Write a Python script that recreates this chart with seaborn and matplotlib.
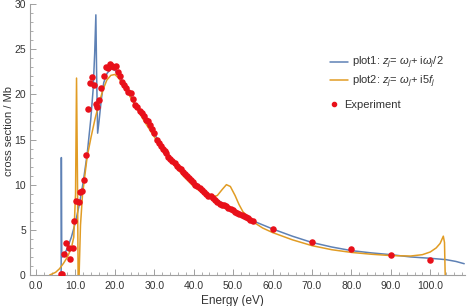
import numpy as np
import pandas as pd
import matplotlib
matplotlib.use("Agg")
import matplotlib.pyplot as plt
from matplotlib.lines import Line2D
from matplotlib.ticker import MultipleLocator, FormatStrFormatter
import seaborn as sns

# --- experiment points (eV, Mb) ---
exp_e = [6.4, 6.6, 7.1, 7.7, 8.3, 8.7, 9.3, 9.6, 10.2, 10.8, 11.2, 11.7, 12.3, 12.8,
         13.2, 13.7, 14.2, 14.8, 15.2, 15.6, 16.1, 16.6, 17.2, 17.8, 18.2, 18.7, 19.3,
         19.7, 20.2, 20.7, 21.3, 21.8, 22.3, 22.8, 23.4, 24.0, 24.5, 25.1, 25.7, 26.3,
         26.8, 27.4, 27.9, 28.4, 29.0, 29.5, 30.0, 30.6, 31.1, 31.6, 32.2, 32.7, 33.1,
         33.6, 34.1, 34.6, 35.2, 35.7, 36.2, 36.7, 37.3, 37.8, 38.3, 38.8, 39.3, 39.8,
         40.4, 40.9, 41.5, 42.0, 42.6, 43.2, 43.7, 44.3, 44.9, 45.4, 46.0, 46.6, 47.1,
         47.7, 48.3, 48.8, 49.4, 49.9, 50.5, 51.0, 51.6, 52.2, 52.7, 53.3, 53.8, 54.4,
         55.0, 60.0, 70.0, 80.0, 90.0, 100.0]
exp_cs = [0.1, 0.1, 2.3, 3.5, 3.0, 1.8, 3.0, 6.0, 8.2, 8.1, 9.2, 9.3, 10.5, 13.3,
          18.4, 21.3, 21.9, 21.0, 18.9, 18.6, 19.4, 20.7, 22.0, 23.0, 22.9, 23.4, 23.1,
          23.0, 23.1, 22.5, 22.0, 21.4, 21.0, 20.7, 20.3, 20.1, 19.5, 18.8, 18.6, 18.2,
          17.9, 17.6, 17.2, 17.0, 16.6, 16.2, 15.7, 15.0, 14.6, 14.3, 14.0, 13.7, 13.5,
          13.1, 12.8, 12.6, 12.4, 12.1, 11.9, 11.7, 11.4, 11.2, 11.0, 10.7, 10.5, 10.3,
          10.0, 9.8, 9.6, 9.4, 9.2, 9.0, 8.8, 8.7, 8.5, 8.3, 8.1, 7.9, 7.8,
          7.7, 7.6, 7.4, 7.3, 7.2, 7.0, 6.9, 6.8, 6.6, 6.5, 6.4, 6.3, 6.1,
          6.0, 5.1, 3.6, 2.9, 2.2, 1.7]

# --- plot1 curve ---
blue_e = [6.40, 6.45, 6.55, 6.7, 7.0, 8.0, 9.0, 10.0, 11.0, 12.0, 13.0, 13.9, 14.5,
          14.9, 15.2, 15.4, 15.65, 16.0, 16.6, 17.2, 18.0, 19.0, 20.0, 21.0, 22.0,
          23.0, 25.0, 27.5, 30.0, 32.5, 35.0, 37.5, 40.0, 42.5, 45.0, 47.5, 50.0,
          55.0, 60.0, 65.0, 70.0, 75.0, 80.0, 85.0, 90.0, 95.0, 100.0, 104.0, 106.5, 108.6]
blue_cs = [0.0, 13.0, 2.4, 2.0, 2.1, 3.0, 4.2, 5.8, 7.8, 10.3, 13.4, 17.2, 20.5,
           24.5, 28.8, 22.0, 15.7, 17.0, 19.5, 21.3, 22.3, 22.8, 22.7, 22.1, 21.4,
           20.6, 19.0, 17.2, 15.6, 14.0, 12.5, 11.2, 10.1, 9.3, 8.6, 7.9, 7.2,
           6.0, 5.1, 4.3, 3.6, 3.1, 2.7, 2.45, 2.25, 2.0, 1.85, 1.7, 1.5, 1.25]

# --- plot2 curve ---
orange_e = [3.5, 5.0, 6.0, 7.0, 8.0, 9.0, 9.6, 10.05, 10.3, 10.55, 10.7, 10.8, 10.95,
            11.3, 11.8, 12.4, 13.0, 14.0, 15.0, 16.0, 17.0, 18.0, 19.0, 20.0, 21.0,
            22.0, 23.0, 25.0, 27.5, 30.0, 32.5, 35.0, 37.5, 40.0, 42.5, 44.5, 46.0,
            47.3, 48.3, 49.3, 50.5, 51.5, 52.5, 53.7, 55.0, 57.5, 60.0, 65.0, 70.0,
            75.0, 80.0, 85.0, 90.0, 95.0, 98.0, 100.0, 101.5, 102.5, 103.3, 103.6,
            103.75, 104.0]
orange_cs = [0.0, 0.3, 0.7, 1.3, 2.0, 3.0, 4.2, 9.0, 21.8, 10.0, 0.0, -4.0, 0.0,
             5.5, 8.8, 11.0, 13.1, 15.3, 17.3, 19.0, 20.5, 21.6, 22.1, 22.2, 21.8,
             21.1, 20.4, 18.9, 17.0, 15.3, 13.7, 12.2, 10.9, 9.8, 9.0, 8.6, 8.8,
             9.5, 10.0, 9.8, 8.8, 7.8, 7.0, 6.5, 5.9, 5.2, 4.7, 3.9, 3.25,
             2.8, 2.5, 2.3, 2.15, 2.1, 2.25, 2.55, 3.0, 3.5, 4.3, 3.6,
             0.5, -3.0]

label1 = r"plot1: $z_j$= $\omega_j$+ i$\omega_j$/2"
label2 = r"plot2: $z_j$= $\omega_j$+ i5$f_j$"

BLUE = "#5e81b5"
ORANGE = "#e19c24"
RED = "#e8101a"
GREY = "#a0a0a0"

sns.set_style("white")
plt.rcParams["font.family"] = ["Liberation Sans", "DejaVu Sans"]
plt.rcParams["mathtext.fontset"] = "custom"
plt.rcParams["mathtext.rm"] = "Liberation Sans"
plt.rcParams["mathtext.it"] = "Liberation Sans:italic"

fig = plt.figure(figsize=(4.74, 3.06), dpi=100)
ax = fig.add_axes([30 / 474, 1 - 275 / 306, 435 / 474, 271 / 306])

df_b = pd.DataFrame({"e": blue_e, "cs": blue_cs})
df_o = pd.DataFrame({"e": orange_e, "cs": orange_cs})
df_x = pd.DataFrame({"e": exp_e, "cs": exp_cs})

sns.lineplot(data=df_b, x="e", y="cs", ax=ax, color=BLUE, lw=1.1, sort=False)
sns.lineplot(data=df_o, x="e", y="cs", ax=ax, color=ORANGE, lw=1.1, sort=False)
sns.scatterplot(data=df_x, x="e", y="cs", ax=ax, color=RED, s=22, linewidth=0, zorder=5)

ax.set_xlim(-1.5, 108.8)
ax.set_ylim(0, 30)
ax.xaxis.set_major_locator(MultipleLocator(10))
ax.xaxis.set_minor_locator(MultipleLocator(2))
ax.xaxis.set_major_formatter(FormatStrFormatter("%.1f"))
ax.yaxis.set_major_locator(MultipleLocator(5))
ax.yaxis.set_minor_locator(MultipleLocator(1))

for s in ["top", "right"]:
    ax.spines[s].set_visible(False)
for s in ["left", "bottom"]:
    ax.spines[s].set_color(GREY)
    ax.spines[s].set_linewidth(0.8)

ax.tick_params(which="both", direction="in", color=GREY, labelcolor="#333333",
               labelsize=7.5, left=True, bottom=True)
ax.tick_params(which="major", length=4, width=0.7)
ax.tick_params(which="minor", length=2, width=0.6)
ax.tick_params(axis="x", pad=4)
ax.tick_params(axis="y", pad=3)

ax.set_xlabel("Energy (eV)", fontsize=8.5, color="#333333")
ax.set_ylabel("cross section / Mb", fontsize=8, color="#333333")
ax.yaxis.set_label_coords(-0.036, 0.53)
ax.xaxis.set_label_coords(0.465, -0.072)

h1 = [Line2D([], [], color=BLUE, lw=1.1), Line2D([], [], color=ORANGE, lw=1.1)]
leg1 = ax.legend(h1, [label1, label2], loc="upper left", frameon=False,
                 bbox_to_anchor=(330 / 474, 1 - 55 / 306), bbox_transform=fig.transFigure,
                 fontsize=8, handlelength=1.6, handletextpad=0.4, borderpad=0,
                 borderaxespad=0, labelspacing=0.2, labelcolor="#333333")
ax.add_artist(leg1)
h2 = [Line2D([], [], color=RED, marker="o", ls="", markersize=3)]
ax.legend(h2, ["Experiment"], loc="upper left", frameon=False,
          bbox_to_anchor=(330 / 474, 1 - 100 / 306), bbox_transform=fig.transFigure,
          fontsize=8, handlelength=0.8, handletextpad=0.5, borderpad=0,
          borderaxespad=0, labelcolor="#333333")

fig.savefig("out.png", dpi=100)
